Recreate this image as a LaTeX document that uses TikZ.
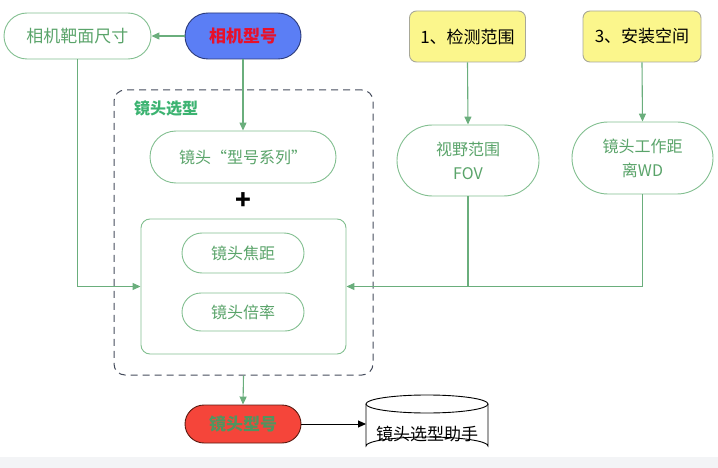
\documentclass[tikz,border=0pt]{standalone}
\usepackage{fontspec}
\setmainfont{Noto Sans CJK SC}
\usetikzlibrary{arrows.meta,shapes.misc}
\definecolor{pillgreen}{HTML}{82BF90}
\definecolor{txtgreen}{HTML}{5AA46A}
\definecolor{lblgreen}{HTML}{3CB371}
\definecolor{linegreen}{HTML}{6AAE7C}
\definecolor{bluefill}{HTML}{5B7EF5}
\definecolor{blueedge}{HTML}{2B3A7A}
\definecolor{redtxt}{HTML}{E8102A}
\definecolor{redfill}{HTML}{F5453A}
\definecolor{rededge}{HTML}{5A1A10}
\definecolor{yellowfill}{HTML}{FBF68C}
\definecolor{yellowedge}{HTML}{A8A898}
\definecolor{dashgray}{HTML}{454C5C}
\definecolor{bandgray}{HTML}{F3F4F6}
\tikzset{
  pill/.style={rounded rectangle, draw=pillgreen, line width=0.9pt, fill=white, inner sep=0pt,
    text=txtgreen, font=\fontsize{16}{22}\selectfont, align=center},
  ybox/.style={rectangle, rounded corners=7pt, draw=yellowedge, line width=0.9pt, fill=yellowfill,
    inner sep=0pt, minimum width=116pt, minimum height=51pt, font=\fontsize{17}{20}\selectfont},
  arr/.style={draw=linegreen, line width=1.1pt, -{Triangle[length=8pt,width=7pt]}},
  conn/.style={draw=linegreen, line width=1.1pt},
  blackarr/.style={draw=black, line width=0.9pt, -{Triangle[length=8pt,width=7pt]}},
}
\begin{document}
\begin{tikzpicture}[x=1pt,y=-1pt]
\useasboundingbox (0,0) rectangle (718,468);
\fill[bandgray] (0,457) rectangle (718,468);
% dashed container
\node[draw=dashgray, dash pattern=on 7pt off 5pt, line width=1pt, rounded corners=11pt,
  minimum width=259pt, minimum height=285pt, inner sep=0pt] (box) at (243.5,232.5) {};
\node[text=lblgreen, font=\fontsize{16}{20}\selectfont\bfseries] (boxlbl) at (166,108) {镜头选型};
% top row
\node[pill, minimum width=147pt, minimum height=46pt, font=\fontsize{17}{20}\selectfont] (camsize) at (77.5,36) {相机靶面尺寸};
\node[rounded rectangle, draw=blueedge, fill=bluefill, line width=0.9pt, inner sep=0pt,
  minimum width=116pt, minimum height=46pt, text=redtxt, font=\fontsize{17}{20}\selectfont\bfseries] (cammodel) at (243,36) {相机型号};
\node[ybox] (y1) at (467.5,36.5) {1、检测范围};
\node[ybox, minimum width=118pt] (y3) at (642,36.5) {3、安装空间};
% inside container
\node[pill, minimum width=186pt, minimum height=52pt] (series) at (243,157) {镜头“型号系列”};
\node[font=\fontsize{26}{26}\selectfont\bfseries] (plus) at (243,201) {+};
\node[draw=pillgreen, line width=0.9pt, rounded corners=9pt, minimum width=205pt, minimum height=135pt,
  inner sep=0pt] (inner) at (243.5,286.5) {};
\node[pill, minimum width=122pt, minimum height=40pt] (focal) at (243,253) {镜头焦距};
\node[pill, minimum width=122pt, minimum height=38pt] (mag) at (243,312) {镜头倍率};
% right side
\node[pill, minimum width=142pt, minimum height=71pt, font=\fontsize{16}{24}\selectfont] (fov) at (468,160.5) {视野范围\\FOV};
\node[pill, minimum width=141pt, minimum height=72pt, font=\fontsize{16}{24}\selectfont] (wd) at (642.5,158) {镜头工作距\\离WD};
% bottom
\node[rounded rectangle, draw=rededge, fill=redfill, line width=0.9pt, inner sep=0pt,
  minimum width=116pt, minimum height=38pt, text=txtgreen!90!black, font=\fontsize{17}{20}\selectfont\bfseries] (lensmodel) at (243,424) {镜头型号};
\coordinate (cylw) at (366,424);
\draw[line width=0.9pt, fill=white] (366,404) -- (366,446) arc[start angle=180, end angle=360, x radius=61, y radius=9] -- (488,404);
\draw[line width=0.9pt, fill=white] (427,404) ellipse[x radius=61, y radius=9];
\node[font=\fontsize{17}{20}\selectfont] (cyl) at (427,434) {镜头选型助手};
% connectors
\draw[arr] (cammodel.west) -- (camsize.east);
\draw[arr] (camsize.south) |- (inner.west);
\draw[arr] (cammodel.south) -- (series.north);
\draw[arr] (y1.south) -- (fov.north);
\draw[arr] (y3.south) -- (wd.north);
\draw[arr] (fov.south) |- (inner.east);
\draw[conn] (wd.south) |- (fov.south |- inner.east);
\draw[arr] (box.south) -- (lensmodel.north);
\draw[blackarr] (lensmodel.east) -- (cylw);
\end{tikzpicture}
\end{document}
